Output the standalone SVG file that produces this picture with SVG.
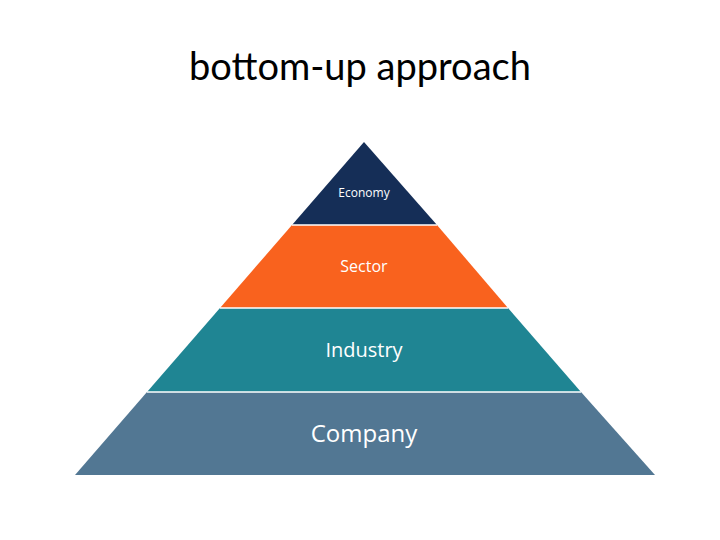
<svg xmlns="http://www.w3.org/2000/svg" width="720" height="540" viewBox="0 0 720 540">
<style>
.t{font-family:"Open Sans","Liberation Sans",sans-serif;fill:#fff;text-anchor:middle}
.sep{stroke:#fff;stroke-width:1.5}
</style>
<rect width="720" height="540" fill="#fff"/>
<text x="360" y="80" font-family="Lato,'Liberation Sans',sans-serif" font-size="38" text-anchor="middle" fill="#000">bottom-up approach</text>
<g id="economy"><polygon points="364,142 437,225 292,225" fill="#152E57"/><text class="t" x="364" y="197" font-size="12">Economy</text></g>
<g id="sector"><polygon points="292,225 437,225 508,308 220,308" fill="#F9621E"/><text class="t" x="364" y="272" font-size="16">Sector</text></g>
<g id="industry"><polygon points="220,308 508,308 581,392 147,392" fill="#1F8593"/><text class="t" x="364" y="357" font-size="20">Industry</text></g>
<g id="company"><polygon points="147,392 581,392 655,475 75,475" fill="#527793"/><text class="t" x="364" y="442" font-size="24">Company</text></g>
<g id="connectors"><line class="sep" x1="292" y1="225" x2="437" y2="225"/><line class="sep" x1="220" y1="308" x2="508" y2="308"/><line class="sep" x1="147" y1="392" x2="581" y2="392"/></g>
</svg>
